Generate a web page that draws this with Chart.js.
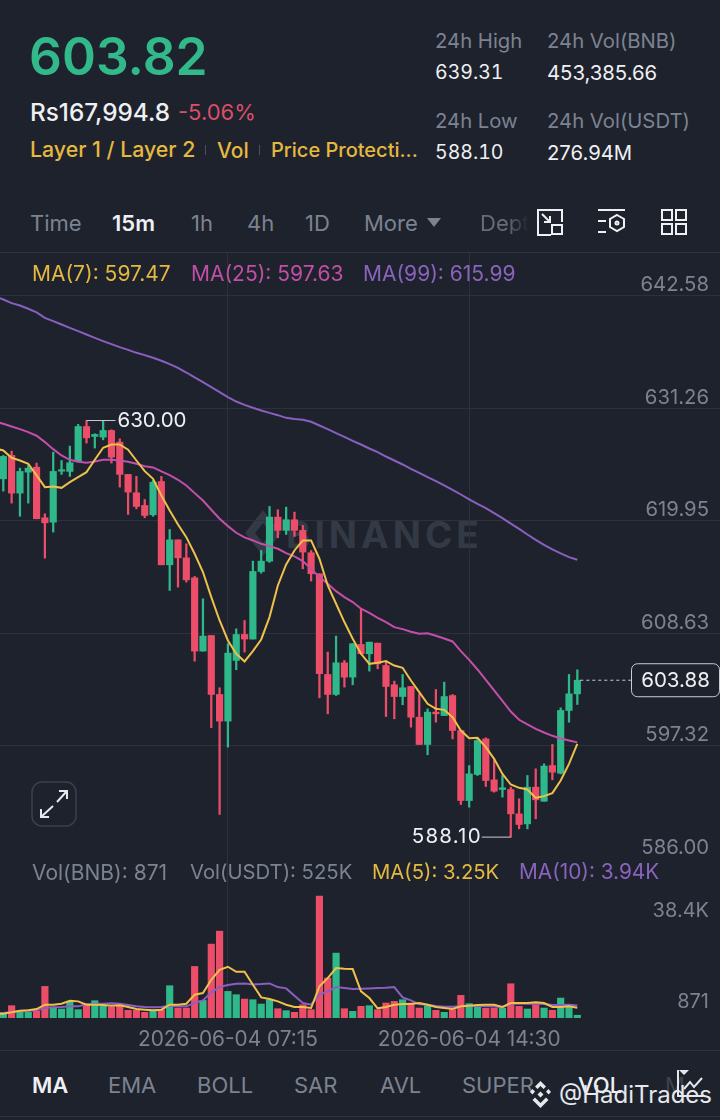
<!DOCTYPE html>
<html>
<head>
<meta charset="utf-8">
<title>BNB 15m</title>
<script src="https://cdn.jsdelivr.net/npm/chart.js@4/dist/chart.umd.js"></script>
<style>
    html, body { margin: 0; padding: 0; background: #1e222d; }
    #page { position: relative; width: 720px; height: 1120px; overflow: hidden; background: #1e222d; font-family: Inter, "Noto Sans", sans-serif; }
    .t { position: absolute; line-height: 1; white-space: nowrap; transform: translateY(-50%); font-size: 20.3px; color: #7c8390; }
    .tab { font-size: 22px; }
    .w { color: #eef0f3; }
    .num { font-variant-numeric: tabular-nums; font-size: 19.5px; }
    .line { position: absolute; left: 0; width: 720px; height: 1px; background: #2d323e; }
    canvas { position: absolute; left: 0; }
    svg { position: absolute; }
    #wm { position: absolute; left: 286px; top: 516px; font-size: 37px; font-weight: 700; letter-spacing: 4px; color: #343a45; line-height: 1; }
</style>
</head>
<body>
<div id="page">
    <span class="t" style="left:29px;top:57px;font-size:51.5px;font-weight:600;color:#32b88b">603.82</span>
    <span class="t w" style="left:30px;top:112px;font-size:24.3px;font-weight:500">Rs167,994.8</span>
    <span class="t" style="left:178px;top:112px;font-size:22px;color:#d94f68">-5.06%</span>
    <span class="t" style="left:30px;top:150px;font-size:21.3px;color:#e5b840;font-weight:500">Layer 1 / Layer 2</span>
    <span class="t" style="left:217px;top:150px;font-size:21px;color:#e5b840;font-weight:500">Vol</span>
    <span class="t" style="left:271px;top:150px;font-size:20px;color:#e5b840;font-weight:500">Price Protecti...</span>
    <svg style="left:205px;top:145px" width="1" height="10"><rect width="1" height="10" fill="#4a505c"/></svg>
    <svg style="left:259px;top:145px" width="1" height="10"><rect width="1" height="10" fill="#4a505c"/></svg>

    <span class="t" style="left:435px;top:41px">24h High</span>
    <span class="t w num" style="left:435px;top:73px">639.31</span>
    <span class="t" style="left:547px;top:41px">24h Vol(BNB)</span>
    <span class="t w" style="left:547px;top:73px">453,385.66</span>
    <span class="t" style="left:435px;top:121px">24h Low</span>
    <span class="t w num" style="left:435px;top:153px">588.10</span>
    <span class="t" style="left:547px;top:121px">24h Vol(USDT)</span>
    <span class="t w" style="left:547px;top:153px">276.94M</span>

    <span class="t tab" style="left:30px;top:223px">Time</span>
    <span class="t w tab" style="left:112px;top:223px;font-weight:600">15m</span>
    <span class="t tab" style="left:191px;top:223px">1h</span>
    <span class="t tab" style="left:247px;top:223px">4h</span>
    <span class="t tab" style="left:305px;top:223px">1D</span>
    <span class="t tab" style="left:364px;top:223px">More</span>
    <svg style="left:427px;top:218px" width="14" height="9"><path d="M0 0H14L7 9Z" fill="#7c8390"/></svg>
    <span class="t tab" style="left:480px;top:223px;color:#666d79;-webkit-mask-image:linear-gradient(to right,#000 55%,transparent)">Dept</span>

    <svg style="left:536px;top:208px" width="28" height="28" fill="none" stroke="#eef0f3" stroke-width="2">
        <path d="M15 27H2V2H26V14"/><rect x="16" y="17" width="10" height="9"/><path d="M6 6L14 14M8 14H14V8"/>
    </svg>
    <svg style="left:597px;top:208px" width="30" height="28" fill="none" stroke="#eef0f3" stroke-width="2">
        <path d="M1 2H28M1 13H9M1 24H9"/><path d="M20 7L27 11V19L20 23L13 19V11Z"/><circle cx="20" cy="15" r="1.5"/>
    </svg>
    <svg style="left:660px;top:208px" width="28" height="28" fill="none" stroke="#eef0f3" stroke-width="2">
        <rect x="2" y="2" width="10" height="10"/><rect x="16" y="2" width="10" height="10"/>
        <rect x="2" y="16" width="10" height="10"/><rect x="16" y="16" width="10" height="10"/>
    </svg>

    <div class="line" style="top:252px"></div>

    <svg style="left:245px;top:510px" width="36" height="46" fill="#343a45"><path d="M18 0L36 23L18 46L0 23ZM18 13L10 23L18 33L26 23Z"/></svg>
    <div id="wm">BINANCE</div>

    <canvas id="priceChart" width="720" height="605" style="top:253px"></canvas>
    <canvas id="volChart" width="720" height="192" style="top:858px"></canvas>

    <span class="t" style="left:32px;top:273px;font-size:21px;color:#e5b840">MA(7): 597.47</span>
    <span class="t" style="left:191px;top:273px;font-size:21px;color:#c04fa6">MA(25): 597.63</span>
    <span class="t" style="left:363px;top:273px;font-size:21px;color:#8a63bd">MA(99): 615.99</span>

    <svg style="left:31px;top:781px" width="46" height="46" fill="none">
        <rect x="1" y="1" width="44" height="44" rx="10" stroke="#3a404c" stroke-width="1.5"/>
        <path d="M10 36L22 25M26 21L36 10M28 10H36V18M10 28V36H18" stroke="#e6e8ec" stroke-width="2"/>
    </svg>

    <span class="t" style="left:32px;top:872px;font-size:21px">Vol(BNB): 871</span>
    <span class="t" style="left:190px;top:872px">Vol(USDT): 525K</span>
    <span class="t" style="left:372px;top:872px;color:#e5b840">MA(5): 3.25K</span>
    <span class="t" style="left:519px;top:872px;font-size:20.8px;color:#8a63bd">MA(10): 3.94K</span>

    <div class="line" style="top:1050px"></div>
    <div class="line" style="top:1116px"></div>

    <span class="t w tab" style="left:32px;top:1085px;font-weight:600">MA</span>
    <span class="t tab" style="left:108px;top:1085px">EMA</span>
    <span class="t tab" style="left:197px;top:1085px">BOLL</span>
    <span class="t tab" style="left:294px;top:1085px">SAR</span>
    <span class="t tab" style="left:380px;top:1085px">AVL</span>
    <span class="t tab" style="left:462px;top:1085px">SUPER</span>
    <span class="t w tab" style="left:578px;top:1085px;font-weight:500">VOL</span>
    <span class="t tab" style="left:665px;top:1085px;color:#3d434e">M</span>
    <svg style="left:675px;top:1069px" width="30" height="30" fill="none" stroke="#e6e8ec" stroke-width="2">
        <path d="M3 1V27H28M9 20L15 13L19 18L27 9"/><path d="M4 1H14L9 6Z" fill="#e6e8ec" stroke="none"/>
    </svg>
    <svg style="left:527px;top:1081px" width="27" height="27" fill="#e6e8ec">
        <path d="M13.5 0L19 5.5L16.5 8L13.5 5L10.500 8L8 5.500ZM5.500 8L8 10.500L5.500 13.500L3 11ZM21.500 8L24 11L21.500 13.500L19 10.500ZM13.500 10.500L16.500 13.500L13.500 16.500L10.500 13.500ZM8 16.500L10.500 19L13.500 22L16.500 19L19 16.500L21.500 19L13.500 27L5.500 19Z"/>
    </svg>
    <span class="t" style="left:559px;top:1095px;font-size:24px;color:#e6e8ec">@HadiTrades</span>
</div>

<script>
'use strict';

var candleOpen = [
    624.14,626.49,622.70,624.81,625.31,620.22,619.78,624.91,624.88,625.88,
    629.40,628.40,628.33,629.00,627.83,624.58,622.73,621.46,620.52,623.87,
    615.49,618.00,616.19,614.18,606.81,608.38,602.45,599.77,605.87,608.48,
    608.02,614.82,615.86,620.29,618.95,620.02,618.95,616.70,614.59,604.46,
    602.45,605.63,604.19,607.48,606.54,607.61,605.36,603.42,602.24,603.25,
    600.16,597.42,600.67,600.33,602.34,598.82,591.78,594.40,597.98,593.86,
    592.89,592.89,590.44,589.43,593.12,591.71,595.30,594.53,600.84,602.51
];
var candleHigh = [
    626.49,626.92,625.21,625.48,625.72,620.62,626.82,625.98,627.43,629.61,
    630.00,628.67,629.94,629.07,628.16,624.58,624.38,622.06,623.97,624.38,
    619.04,618.00,617.60,614.32,612.07,608.38,603.12,607.55,609.05,609.89,
    615.86,616.93,621.36,621.03,621.29,620.79,619.45,616.93,614.59,606.71,
    608.32,605.87,607.55,611.07,607.71,607.61,605.70,603.79,604.46,603.25,
    602.51,601.00,602.95,603.69,602.44,598.82,595.30,597.98,598.09,595.87,
    594.30,593.12,591.95,594.30,594.97,595.47,597.42,601.10,604.46,604.93
];
var candleLow = [
    622.90,621.69,620.37,621.69,620.12,616.16,618.78,624.58,624.38,625.82,
    627.73,627.23,628.06,625.72,623.30,620.55,621.12,620.22,620.37,615.49,
    612.91,613.24,613.75,605.80,606.81,599.10,590.38,597.15,604.93,606.71,
    608.02,614.65,615.73,618.21,618.54,618.34,615.09,613.85,602.11,600.50,
    602.35,603.19,603.42,606.54,604.80,605.03,600.23,600.00,601.41,599.16,
    597.42,596.38,599.66,600.33,597.98,591.38,591.11,594.30,593.19,592.62,
    592.12,588.10,588.93,588.93,589.94,591.71,593.86,594.46,599.66,601.44
];
var candleClose = [
    626.39,622.70,624.88,625.21,620.12,619.71,624.88,625.05,625.75,629.40,
    628.26,628.60,629.00,626.32,624.58,622.80,621.36,620.45,623.80,615.49,
    618.00,616.19,613.98,606.81,608.32,602.45,599.77,606.61,608.48,608.02,
    614.82,615.86,620.29,618.95,620.02,618.95,616.77,614.59,604.53,602.45,
    605.63,604.19,607.55,606.54,607.71,605.53,603.25,602.24,603.12,600.16,
    597.42,600.67,600.50,602.24,598.82,591.78,594.46,597.82,593.79,592.72,
    593.06,590.44,589.37,593.12,591.85,595.24,594.63,600.84,602.51,603.88
];
var ma7 = [
    626.99,626.25,625.98,625.65,624.48,623.30,623.37,623.23,623.80,624.31,
    624.81,626.05,627.26,627.59,627.59,627.06,625.98,624.91,624.14,622.46,
    620.95,619.55,618.27,616.60,614.76,612.24,609.89,607.88,606.54,605.77,
    606.81,607.98,610.23,613.41,615.53,616.93,617.94,617.94,616.10,613.41,
    611.57,609.73,608.05,606.54,605.53,605.63,605.80,605.36,605.13,603.85,
    602.68,601.51,601.00,600.90,600.16,598.82,598.05,598.09,597.15,595.97,
    594.46,593.39,593.06,592.89,592.05,592.22,592.52,593.79,595.47,597.47
];
var ma25 = [
    629.67,629.40,629.14,628.83,628.47,627.83,627.12,626.49,626.05,625.85,
    625.75,625.88,626.05,626.05,625.98,625.85,625.65,625.41,625.28,624.88,
    624.51,624.04,623.47,622.70,621.96,621.03,620.12,619.38,618.71,618.24,
    617.94,617.60,617.37,617.10,616.67,616.33,615.86,615.09,614.25,613.58,
    612.84,612.24,611.74,611.07,610.66,610.16,609.72,609.22,609.02,608.75,
    608.55,608.61,608.35,608.08,607.78,606.80,605.93,604.96,603.92,602.85,
    601.81,600.73,599.90,599.43,598.99,598.62,598.29,598.02,597.82,597.63
];
var ma99 = [
    642.17,641.81,641.57,641.24,640.87,640.33,640.00,639.66,639.32,638.99,
    638.65,638.32,637.98,637.68,637.38,637.11,636.81,636.58,636.31,636.01,
    635.67,635.30,634.83,634.33,633.86,633.36,632.85,632.35,631.91,631.58,
    631.28,631.01,630.77,630.54,630.27,630.15,630.07,629.87,629.50,629.13,
    628.73,628.36,627.96,627.59,627.19,626.82,626.38,625.98,625.58,625.14,
    624.74,624.30,623.90,623.47,623.03,622.56,622.06,621.62,621.19,620.68,
    620.18,619.64,619.11,618.54,618.00,617.50,617.03,616.63,616.26,615.99
];
// volumes in thousands of BNB
var volume = [
    1.36,3.88,1.78,1.78,2.10,9.96,3.46,2.83,5.24,2.62,
    4.19,5.45,3.67,3.46,4.19,2.41,2.41,1.78,2.41,2.62,
    10.17,3.14,3.14,16.24,5.55,23.27,27.35,8.38,7.34,5.97,
    5.76,4.40,5.76,2.93,2.31,1.78,4.19,2.62,38.40,12.58,
    20.44,2.93,2.10,3.67,3.88,2.62,4.72,5.24,5.76,4.72,
    3.14,3.88,2.41,1.78,2.62,7.13,4.51,3.67,3.04,3.14,
    3.04,10.79,3.67,2.83,4.19,3.14,2.41,6.29,3.67,0.871
];
var volMa5 = [
    1.36,1.78,2.31,2.41,2.83,4.19,4.19,4.51,5.45,5.24,
    4.19,4.19,4.09,3.88,3.98,3.46,2.83,2.62,2.41,2.62,
    4.19,4.19,4.51,7.34,7.86,12.05,15.20,16.14,14.57,14.57,
    10.48,6.50,5.97,5.24,4.19,3.46,3.46,3.14,9.96,12.58,
    15.72,15.51,15.41,8.38,6.29,3.04,3.46,4.19,4.40,4.40,
    4.72,4.19,3.46,3.14,2.83,3.67,3.88,4.09,4.19,4.19,
    3.46,4.72,4.72,4.72,4.93,4.72,3.46,3.46,3.67,3.25
];
var volMa10 = [
    1.57,1.89,2.20,2.31,2.41,3.14,3.35,3.46,3.67,3.67,
    4.30,4.40,4.51,4.61,4.51,4.09,3.67,3.46,3.35,3.46,
    3.88,3.67,3.67,4.72,5.55,8.07,9.75,10.38,10.79,10.90,
    10.58,10.69,10.90,9.75,9.33,7.02,4.72,4.19,7.34,8.38,
    9.75,9.43,9.12,9.22,9.33,9.43,9.54,9.75,6.50,5.55,
    4.30,4.19,3.77,3.56,3.56,3.77,3.77,3.77,3.67,3.67,
    3.35,4.51,4.51,4.51,4.51,4.40,4.09,4.09,4.19,3.94
];
// the averages run on past the left edge, one candle before the first visible one
var leadMa7 = 627.2, leadMa25 = 629.9, leadMa99 = 642.5, leadVolMa5 = 1.3, leadVolMa10 = 1.5;

var priceTicks = [642.58, 631.26, 619.95, 608.63, 597.32, 586.00];
var timeTickIndex = [27, 56];
var timeTickLabels = ['2026-06-04 07:15', '2026-06-04 14:30'];
var volTickValues = [38.4, 0.871];
var volTickLabels = ['38.4K', '871'];

var UP = '#2fb98a', DOWN = '#ec4d68', GRID = '#2c313d', LABEL = '#7c8390';
var FONT = 'Inter, "Noto Sans", sans-serif';
var X_MIN = -0.397, X_MAX = 86.15;

function points(values) {
    return values.map(function(y, x) { return {x: x, y: y}; });
}
function lineSet(values, lead, color) {
    return {type: 'line', data: [{x: -1, y: lead}].concat(points(values)), borderColor: color,
        borderWidth: 2, pointRadius: 0, tension: 0, order: 0};
}
var candleColors = candleClose.map(function(c, i) { return c >= candleOpen[i] ? UP : DOWN; });

function xScale(showLabels) {
    return {
        type: 'linear', min: X_MIN, max: X_MAX, offset: false,
        grid: {color: GRID, drawTicks: false, offset: false},
        border: {display: false},
        afterBuildTicks: function(scale) {
            scale.ticks = timeTickIndex.map(function(v) { return {value: v}; });
        },
        afterFit: function(scale) { scale.height = showLabels ? 32 : 0; },
        ticks: {
            display: showLabels, autoSkip: false, maxRotation: 0, padding: 9,
            color: LABEL, font: {family: FONT, size: 20.8},
            callback: function(v) { return timeTickLabels[timeTickIndex.indexOf(v)]; }
        }
    };
}
// y axes sit over the plot, so they take no room from it
function flatAxis(scale) {
    scale.width = 0;
    scale.paddingTop = 0;
    scale.paddingBottom = 0;
}

// high / low callouts and the last price tag, placed from the data
var calloutPlugin = {
    id: 'callouts',
    afterDatasetsDraw: function(chart) {
        var ctx = chart.ctx, xs = chart.scales.x, ys = chart.scales.y;
        var hi = candleHigh.indexOf(Math.max.apply(null, candleHigh));
        var lo = candleLow.indexOf(Math.min.apply(null, candleLow));
        var last = candleClose.length - 1;
        var lastY = ys.getPixelForValue(candleClose[last]);
        ctx.save();
        ctx.font = '20.5px ' + FONT;
        ctx.textBaseline = 'middle';
        ctx.strokeStyle = '#c9ccd3';
        ctx.fillStyle = '#eef0f3';
        ctx.lineWidth = 1;

        var hx = xs.getPixelForValue(hi), hy = ys.getPixelForValue(candleHigh[hi]);
        ctx.beginPath(); ctx.moveTo(hx, hy); ctx.lineTo(hx + 29, hy); ctx.stroke();
        ctx.textAlign = 'left';
        ctx.fillText(candleHigh[hi].toFixed(2), hx + 31, hy);

        var lx = xs.getPixelForValue(lo), ly = ys.getPixelForValue(candleLow[lo]);
        ctx.beginPath(); ctx.moveTo(lx, ly); ctx.lineTo(lx - 29, ly); ctx.stroke();
        ctx.textAlign = 'right';
        ctx.letterSpacing = '1.2px';
        ctx.fillText(candleLow[lo].toFixed(2), lx - 29, ly);
        ctx.letterSpacing = '0px';

        ctx.setLineDash([3, 3]);
        ctx.beginPath(); ctx.moveTo(xs.getPixelForValue(last) + 3, lastY); ctx.lineTo(631, lastY); ctx.stroke();
        ctx.setLineDash([]);
        ctx.beginPath();
        ctx.roundRect(631.5, lastY - 16.5, 88, 33, 6);
        ctx.fillStyle = '#1e222d';
        ctx.fill();
        ctx.stroke();
        ctx.fillStyle = '#eef0f3';
        ctx.textAlign = 'center';
        ctx.fillText(candleClose[last].toFixed(2), 675.5, lastY + 1);
        ctx.restore();
    }
};

new Chart(document.getElementById('priceChart'), {
    type: 'bar',
    plugins: [calloutPlugin],
    data: {
        datasets: [
            lineSet(ma7, leadMa7, '#efc04a'),
            lineSet(ma25, leadMa25, '#c44fab'),
            lineSet(ma99, leadMa99, '#8a5fc0'),
            {
                data: candleOpen.map(function(o, i) { return {x: i, y: [o, candleClose[i]]}; }),
                backgroundColor: candleColors, barThickness: 6.5, minBarLength: 1, order: 1
            },
            {
                data: candleLow.map(function(l, i) { return {x: i, y: [l, candleHigh[i]]}; }),
                backgroundColor: candleColors, barThickness: 1.6, order: 2
            }
        ]
    },
    options: {
        responsive: false,
        animation: false,
        layout: {padding: 0, autoPadding: false},
        plugins: {legend: {display: false}, tooltip: {enabled: false}},
        datasets: {bar: {grouped: false}},
        scales: {
            x: xScale(false),
            y: {
                position: 'right', min: 586, max: 646.85,
                grid: {color: GRID, drawTicks: false},
                border: {display: false},
                afterFit: flatAxis,
                afterBuildTicks: function(scale) {
                    scale.ticks = priceTicks.map(function(v) { return {value: v}; });
                },
                ticks: {
                    mirror: true, padding: -11, align: 'end', autoSkip: false,
                    color: LABEL, font: {family: FONT, size: 20.3},
                    callback: function(v) { return v.toFixed(2); }
                }
            }
        }
    }
});

// the two volume labels sit on opposite sides of their levels, so they are drawn here
var volLabelPlugin = {
    id: 'volLabels',
    afterDraw: function(chart) {
        var ctx = chart.ctx, ys = chart.scales.y;
        ctx.save();
        ctx.font = '20px ' + FONT;
        ctx.fillStyle = LABEL;
        ctx.textAlign = 'right';
        volTickValues.forEach(function(v, i) {
            ctx.textBaseline = i === 0 ? 'top' : 'bottom';
            ctx.fillText(volTickLabels[i], 709, ys.getPixelForValue(v) + (i === 0 ? 5 : -3));
        });
        ctx.restore();
    }
};

new Chart(document.getElementById('volChart'), {
    type: 'bar',
    plugins: [volLabelPlugin],
    data: {
        datasets: [
            lineSet(volMa5, leadVolMa5, '#efc04a'),
            lineSet(volMa10, leadVolMa10, '#8a5fc0'),
            {data: points(volume), backgroundColor: candleColors, barThickness: 6.5, order: 1}
        ]
    },
    options: {
        responsive: false,
        animation: false,
        layout: {padding: 0, autoPadding: false},
        plugins: {legend: {display: false}, tooltip: {enabled: false}},
        scales: {
            x: xScale(true),
            y: {
                position: 'right', min: 0, max: 50.4,
                grid: {display: false},
                border: {display: false},
                afterFit: flatAxis,
                ticks: {display: false}
            }
        }
    }
});
</script>
</body>
</html>
